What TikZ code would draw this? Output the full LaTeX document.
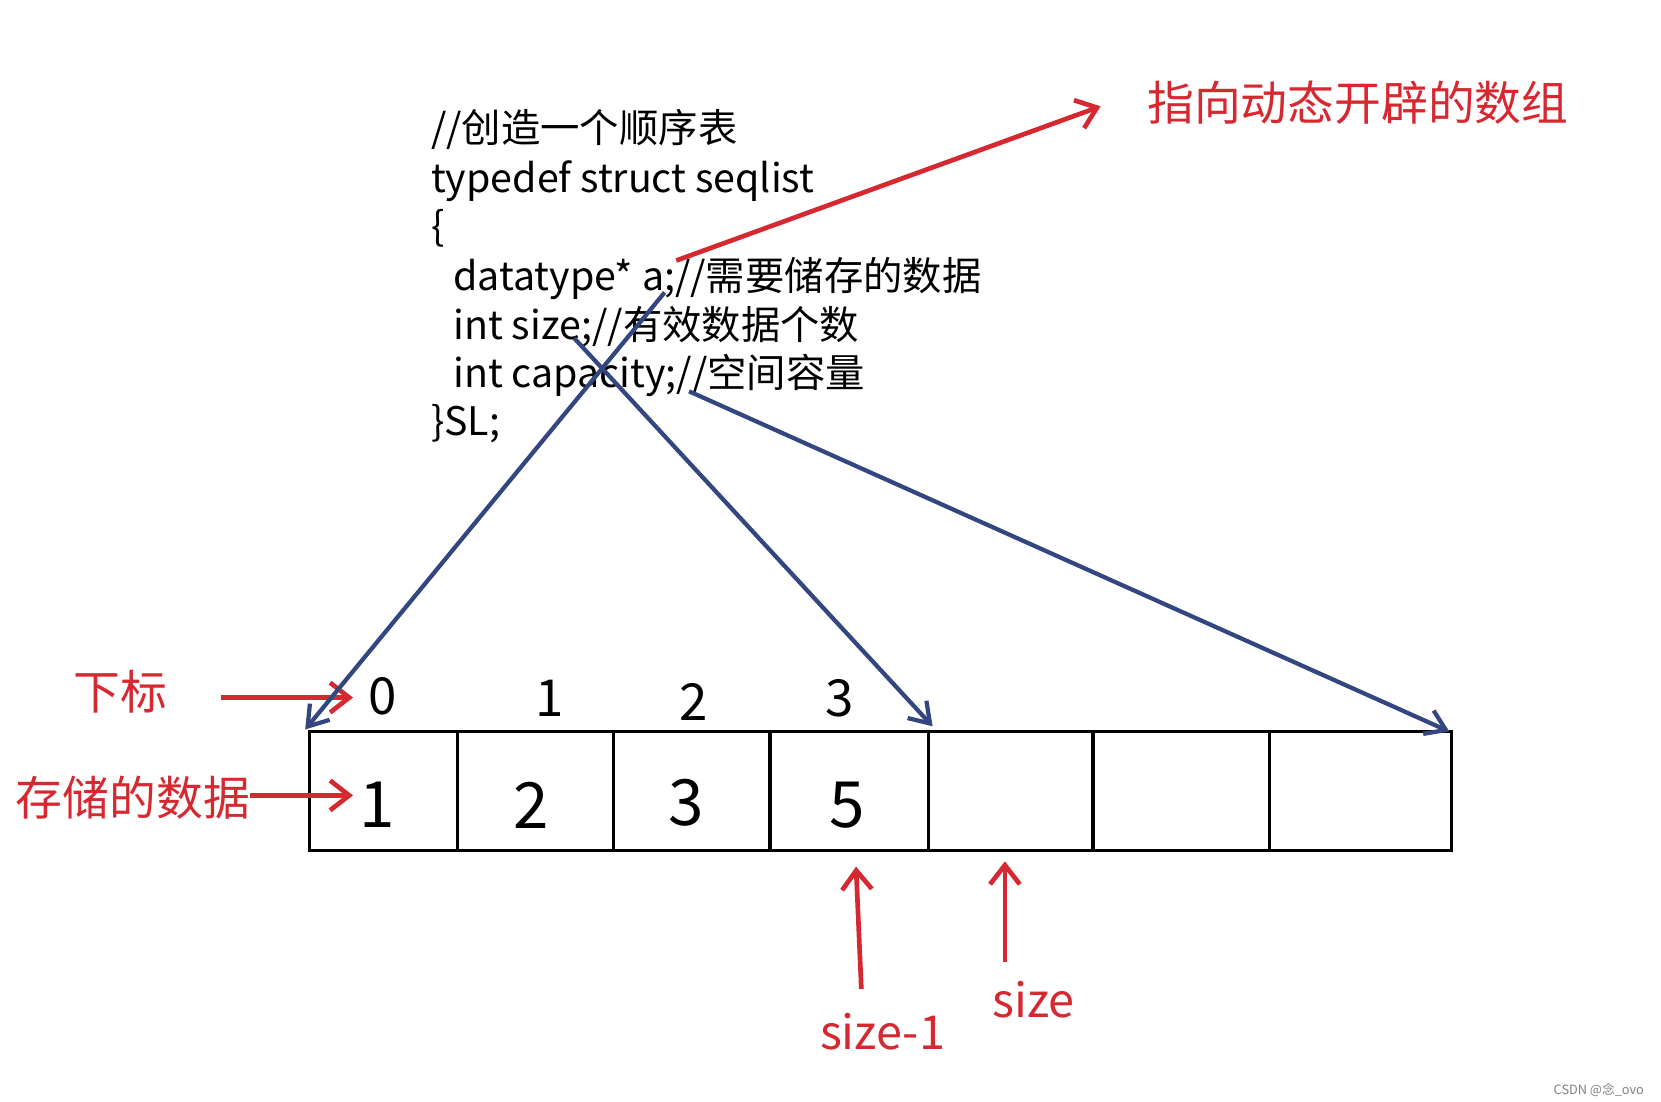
\documentclass[tikz,border=0pt]{standalone}
\usepackage{fontspec}
\setmainfont{Noto Sans CJK SC}
\usetikzlibrary{arrows.meta}
\definecolor{hred}{RGB}{214,40,48}
\definecolor{hblue}{RGB}{52,70,128}
\begin{document}
\begin{tikzpicture}[x=0.5pt,y=-0.5pt,
  code/.style={anchor=west,font=\fontsize{18.5}{18.5}\selectfont,inner sep=0},
  num/.style={font=\fontsize{24}{24}\selectfont,inner sep=0},
  val/.style={font=\fontsize{30}{30}\selectfont,inner sep=0},
  hand/.style={text=hred,font=\fontsize{22}{22}\selectfont,inner sep=0},
  rarrow/.style={draw=hred,line width=2.2pt,-{Straight Barb[length=9pt,width=14pt]}},
  barrow/.style={draw=hblue,line width=2pt,-{Straight Barb[length=9pt,width=12pt]}},
  cellline/.style={draw=black,line width=1.6pt}]
\useasboundingbox (0,0) rectangle (1562,1036);
\node[code] (l1) at (405,122) {//创造一个顺序表};
\node[code] (l2) at (405,170) {typedef struct seqlist};
\node[code] (l3) at (405,215) {\{};
\node[code] (l4) at (426,262) {datatype* a;//需要储存的数据};
\node[code] (l5) at (426,307) {int size;//有效数据个数};
\node[code] (l6) at (426,353) {int capacity;//空间容量};
\node[code] (l7) at (405,398) {\}SL;};
% array
\draw[cellline] (291,688) rectangle (1365,800);
\foreach \x in {430,577,724,873,1028,1194} \draw[cellline] (\x,688) -- (\x,800);
\node[num] (i0) at (360,655) {0};
\node[num] (i1) at (517,657) {1};
\node[num] (i2) at (652,660) {2};
\node[num] (i3) at (790,657) {3};
\node[val] (v1) at (355,757) {1};
\node[val] (v2) at (500,757) {2};
\node[val] (v3) at (645,755) {3};
\node[val] (v5) at (797,757) {5};
% red labels
\node[hand] (xb) at (113,650) {下标};
\node[hand] (cc) at (125,750) {存储的数据};
\node[hand] (zx) at (1277,97) {指向动态开辟的数组};
\node[hand] (s1) at (830,970) {size-1};
\node[hand] (s0) at (972,940) {size};
\coordinate (xbs) at (208,656); \coordinate (xbe) at (332,656);
\coordinate (ccs) at (235,748); \coordinate (cce) at (332,748);
\coordinate (ps) at (636,245); \coordinate (pe) at (1035,100);
\coordinate (u1s) at (810,930); \coordinate (u1e) at (805,815);
\coordinate (u2s) at (945,905); \coordinate (u2e) at (945,810);
\draw[rarrow] (xbs) -- (xbe);
\draw[rarrow] (ccs) -- (cce);
\draw[rarrow] (ps) -- (pe);
\draw[rarrow] (u1s) -- (u1e);
\draw[rarrow] (u2s) -- (u2e);
% blue
\coordinate (b1s) at (625,275); \coordinate (b1e) at (287,686);
\coordinate (b2s) at (540,318); \coordinate (b2e) at (877,683);
\coordinate (b3s) at (648,368); \coordinate (b3e) at (1363,688);
\draw[barrow] (b1s) -- (b1e);
\draw[barrow] (b2s) -- (b2e);
\draw[barrow] (b3s) -- (b3e);
\node[text=gray,font=\fontsize{6}{6}\selectfont,anchor=east] (wm) at (1553,1025) {CSDN @念\_ovo};
\end{tikzpicture}
\end{document}
